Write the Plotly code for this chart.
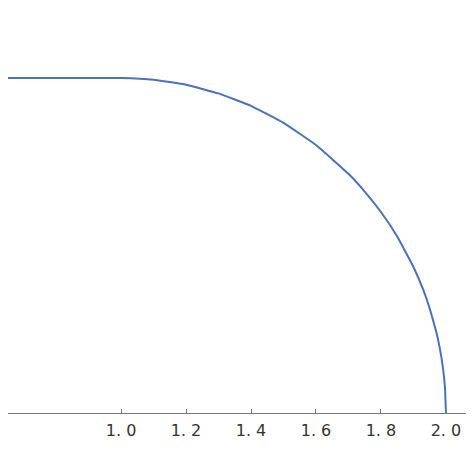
import plotly.graph_objects as go

x_vals = [0.6, 1.0, 1.1, 1.2, 1.3, 1.4, 1.5, 1.6, 1.7, 1.75, 1.8, 1.85, 1.9, 1.93, 1.95, 1.97, 1.98, 1.99, 1.997, 2.0]
y_vals = [1.0, 1.0, 0.995, 0.98, 0.954, 0.917, 0.866, 0.80, 0.714, 0.661, 0.60, 0.527, 0.436, 0.368, 0.312, 0.243, 0.199, 0.141, 0.077, 0.0]
tick_vals = [1.0, 1.2, 1.4, 1.6, 1.8, 2.0]
tick_text = ["1. 0", "1. 2", "1. 4", "1. 6", "1. 8", "2. 0"]

fig = go.Figure(go.Scatter(x=x_vals, y=y_vals, mode="lines",
                           line=dict(color="#4a72b8", width=2, shape="spline", smoothing=0.3)))
fig.update_layout(width=474, height=474, margin=dict(l=0, r=0, t=0, b=69, autoexpand=False),
                  plot_bgcolor="white", paper_bgcolor="white", showlegend=False,
                  font=dict(family="DejaVu Sans", size=16, color="#333"))
fig.update_xaxes(range=[0.652, 2.111], tickvals=tick_vals, ticktext=tick_text, automargin=False,
                 showgrid=False, zeroline=False, showline=True, linecolor="#777", linewidth=1,
                 ticks="inside", ticklen=4, tickcolor="#777", ticklabelstandoff=3)
fig.update_yaxes(range=[0, 1.209], visible=False, showgrid=False, automargin=False)
fig.write_html("out.html")
